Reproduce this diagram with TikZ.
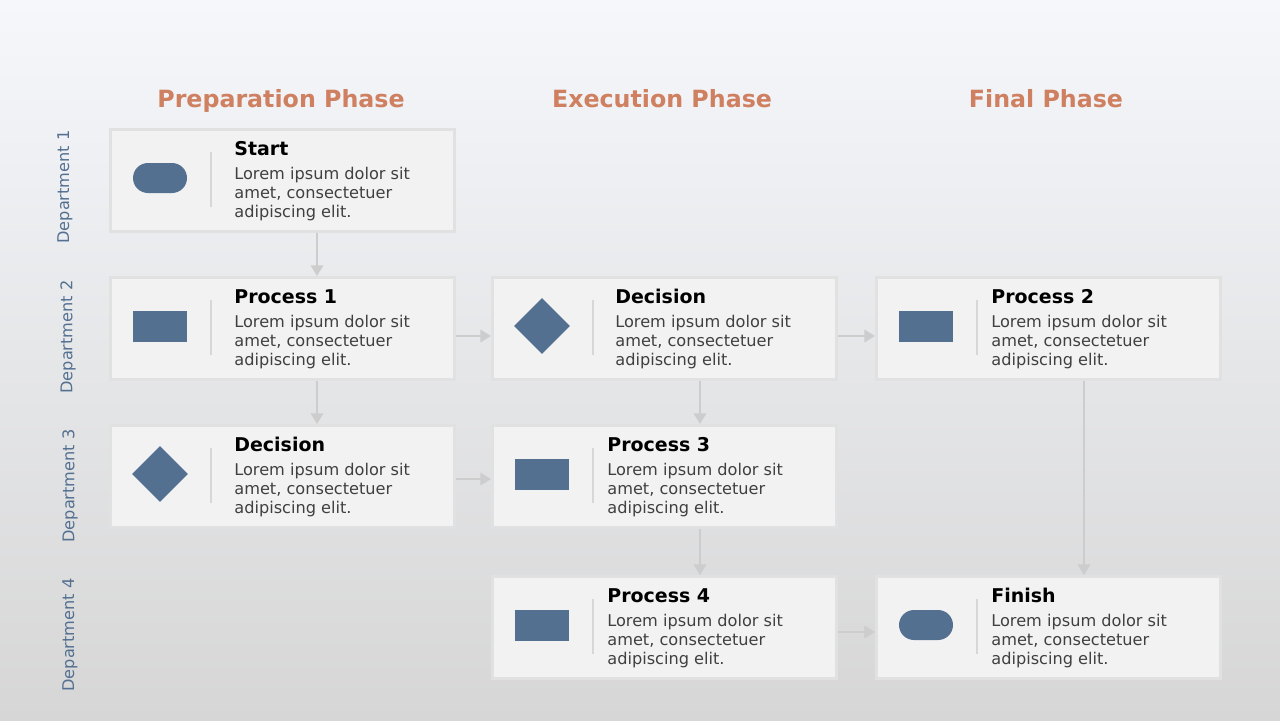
\documentclass[tikz,border=0pt]{standalone}
\usepackage{fontspec}
\setmainfont{DejaVu Sans}
\usetikzlibrary{positioning, arrows.meta, shapes.geometric}

\definecolor{slate}{RGB}{84,112,145}
\definecolor{phase}{RGB}{207,128,96}
\definecolor{cardbg}{RGB}{242,242,242}
\definecolor{cardline}{RGB}{225,225,225}
\definecolor{sepline}{RGB}{215,215,215}
\definecolor{flow}{RGB}{205,205,205}
\definecolor{bodytext}{RGB}{64,64,64}

\tikzset{
  card/.style={draw=cardline, line width=1.5pt, fill=cardbg, minimum width=344*0.02cm, minimum height=102*0.02cm, inner sep=0pt},
  pill/.style={fill=slate, rounded corners=15*0.02cm, minimum width=54*0.02cm, minimum height=30*0.02cm, inner sep=0pt},
  procbox/.style={fill=slate, minimum width=54*0.02cm, minimum height=31*0.02cm, inner sep=0pt},
  choice/.style={fill=slate, diamond, minimum width=56*0.02cm, minimum height=56*0.02cm, inner sep=0pt},
  cardtitle/.style={anchor=base west, font=\fontsize{10.8}{12}\selectfont\bfseries, inner sep=0pt},
  cardtext/.style={anchor=north west, align=left, font=\fontsize{9.2}{10.8}\selectfont, text=bodytext, inner sep=0pt},
  phasehead/.style={anchor=base, text=phase, font=\fontsize{13.5}{15}\selectfont\bfseries},
  dept/.style={text=slate, rotate=90, font=\fontsize{9.2}{10}\selectfont},
  flowline/.style={draw=flow, line width=1.2pt, -{Triangle[length=6pt,width=7pt]}},
}

% one card: name, x-left, y-top, icon style, separator offset, text offset, title
\newcommand{\flowcard}[7]{
  \node[card, anchor=north west] (#1) at (#2,#3) {};
  \node[#4] (#1-icon) at (#2+51,#3+50) {};
  \draw[sepline, line width=1.5pt] (#2+#5,#3+24) -- (#2+#5,#3+79);
  \node[cardtitle] (#1-title) at (#2+#6,#3+27) {#7};
  \node[cardtext] (#1-text) at (#2+#6,#3+39) {Lorem ipsum dolor sit\\amet, consectetuer\\adipiscing elit.};
}

\begin{document}
\begin{tikzpicture}[x=0.02cm, y=-0.02cm]

\shade[top color={rgb,255:red,245;green,247;blue,251}, bottom color={rgb,255:red,214;green,214;blue,214}] (0,0) rectangle (1280,720);
\useasboundingbox (0,0) rectangle (1280,720);

% phases
\node[phasehead] (ph1) at (281,107) {Preparation Phase};
\node[phasehead] (ph2) at (662,107) {Execution Phase};
\node[phasehead] (ph3) at (1046,107) {Final Phase};

% departments
\node[dept] (d1) at (65,187) {Department 1};
\node[dept] (d2) at (68,337) {Department 2};
\node[dept] (d3) at (70,486) {Department 3};
\node[dept] (d4) at (70,635) {Department 4};

% cards
\flowcard{start}{109}{128}{pill}{102}{125}{Start}
\flowcard{procA}{109}{276}{procbox}{102}{125}{Process 1}
\flowcard{decA}{109}{424}{choice}{102}{125}{Decision}
\flowcard{decB}{491}{276}{choice}{102}{124}{Decision}
\flowcard{procC}{491}{424}{procbox}{102}{116}{Process 3}
\flowcard{procD}{491}{575}{procbox}{102}{116}{Process 4}
\flowcard{procB}{875}{276}{procbox}{102}{116}{Process 2}
\flowcard{finish}{875}{575}{pill}{102}{116}{Finish}

% connectors
\draw[flowline] (start.south -| 317,0) -- (procA.north -| 317,0);
\draw[flowline] (procA.south -| 317,0) -- (decA.north -| 317,0);
\draw[flowline] (procA.east |- 0,336) -- (decB.west |- 0,336);
\draw[flowline] (decA.east |- 0,479) -- (procC.west |- 0,479);
\draw[flowline] (decB.east |- 0,336) -- (procB.west |- 0,336);
\draw[flowline] (decB.south -| 700,0) -- (procC.north -| 700,0);
\draw[flowline] (procC.south -| 700,0) -- (procD.north -| 700,0);
\draw[flowline] (procD.east |- 0,632) -- (finish.west |- 0,632);
\draw[flowline] (procB.south -| 1084,0) -- (finish.north -| 1084,0);

\end{tikzpicture}
\end{document}
